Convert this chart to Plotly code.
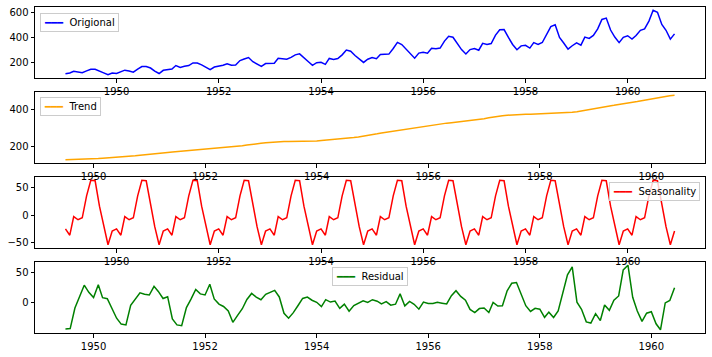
import pandas as pd
import plotly.graph_objects as go
from plotly.subplots import make_subplots

# ---- data ----
passengers = [
    112, 118, 132, 129, 121, 135, 148, 148, 136, 119, 104, 118,
    115, 126, 141, 135, 125, 149, 170, 170, 158, 133, 114, 140,
    145, 150, 178, 163, 172, 178, 199, 199, 184, 162, 146, 166,
    171, 180, 193, 181, 183, 218, 230, 242, 209, 191, 172, 194,
    196, 196, 236, 235, 229, 243, 264, 272, 237, 211, 180, 201,
    204, 188, 235, 227, 234, 264, 302, 293, 259, 229, 203, 229,
    242, 233, 267, 269, 270, 315, 364, 347, 312, 274, 237, 278,
    284, 277, 317, 313, 318, 374, 413, 405, 355, 306, 271, 306,
    315, 301, 356, 348, 355, 422, 465, 467, 404, 347, 305, 336,
    340, 318, 362, 348, 363, 435, 491, 505, 404, 359, 310, 337,
    360, 342, 406, 396, 420, 472, 548, 559, 463, 407, 362, 405,
    417, 391, 419, 461, 472, 535, 622, 606, 508, 461, 390, 432,
]

trend = [
    126.79, 127.25, 127.96, 128.58, 129.00, 129.75,
    131.25, 133.08, 134.92, 136.42, 137.42, 138.75, 140.92, 143.17, 145.71, 148.42, 151.54, 154.71,
    157.13, 159.54, 161.83, 164.13, 166.67, 169.08, 171.25, 173.58, 175.46, 176.83, 178.04, 180.17,
    183.13, 186.21, 189.04, 191.29, 193.58, 195.83, 198.04, 199.75, 202.21, 206.25, 210.42, 213.38,
    215.83, 218.50, 220.92, 222.92, 224.08, 224.71, 225.33, 225.33, 224.96, 224.58, 224.46, 225.54,
    228.00, 230.46, 232.25, 233.92, 235.63, 237.75, 240.50, 243.96, 247.17, 250.25, 253.50, 257.13,
    261.83, 266.67, 271.13, 275.21, 278.50, 281.96, 285.75, 289.33, 293.25, 297.17, 301.00, 305.46,
    309.96, 314.42, 318.63, 321.75, 324.50, 327.08, 329.54, 331.83, 334.46, 337.54, 340.54, 344.08,
    348.25, 353.00, 357.63, 361.38, 364.50, 367.17, 369.46, 371.21, 372.17, 372.42, 372.75, 373.63,
    375.25, 377.92, 379.50, 380.00, 380.71, 380.96, 381.83, 383.67, 386.50, 390.33, 394.71, 398.63,
    402.54, 407.17, 411.88, 416.33, 420.50, 425.50, 430.71, 435.13, 437.71, 440.96, 445.83, 450.63,
    456.33, 461.38, 465.21, 469.33, 472.75, 475.04,
]

seasonal_month = [-24.75, -36.19, -2.24, -8.04, -4.51, 35.40,
                  63.83, 62.82, 16.52, -20.64, -53.59, -28.62]
seasonality = seasonal_month * 12

residual = [
    -42.62, -42.07, -8.48, 11.06, 28.59, 16.87,
    8.50, 29.11, 8.32, 6.62, -7.91, -25.15, -34.75, -35.99, -4.23, 5.22, 16.05, 13.91,
    12.62, 26.65, 18.41, 6.91, 9.84, -26.48, -36.08, -37.40, -7.98, 5.81, 21.55, 14.45,
    12.62, 29.98, 6.20, -2.25, -6.07, -13.23, -31.87, -20.57, -9.73, 5.39, 15.17, 9.24,
    4.92, 13.69, 17.32, 20.12, 9.43, -17.11, -25.16, -16.15, -4.48, 7.06, 9.13, 4.08,
    0.75, -6.27, 4.99, 1.12, 2.88, -9.15, -2.33, -13.78, -4.69, -0.61, 3.09, 0.49,
    4.92, 2.52, -1.89, 1.83, -3.99, -2.36, 14.42, -5.15, 2.23, -2.53, -10.41, 1.16,
    -1.21, -1.23, 0.61, -0.71, -1.99, 11.52, 19.63, 10.35, 4.02, -10.90, -15.95, -9.46,
    -8.50, -15.81, 0.61, -5.34, -4.99, 19.43, 31.71, 32.97, 15.31, -4.78, -14.16, -9.01,
    -10.50, -23.73, -15.26, -23.96, -13.20, 18.64, 45.34, 58.51, 0.98, -10.69, -31.12, -33.01,
    -17.79, -28.98, -3.64, -12.29, 4.01, 11.10, 53.46, 61.05, 8.77, -13.32, -30.24, -17.01,
    -14.58, -34.19, -43.97, -0.29, 3.76, 24.56,
]

series_names = ["Origional", "Trend", "Seasonality", "Residual"]
series_colors = ["#0000ff", "#ffa500", "#ff0000", "#008000"]

full_dates = pd.date_range("1949-01-01", periods=len(passengers), freq="MS")
mid_dates = pd.date_range("1949-07-01", periods=len(trend), freq="MS")

# ---- figure ----
fig = make_subplots(rows=4, cols=1, shared_xaxes=False)

xs = [full_dates, mid_dates, full_dates, mid_dates]
ys = [passengers, trend, seasonality, residual]
for i in range(4):
    fig.add_trace(go.Scatter(x=xs[i], y=ys[i], mode="lines", name=series_names[i],
                             line=dict(color=series_colors[i], width=1.5),
                             showlegend=False),
                  row=i + 1, col=1)

W_PLOT = 670.0
H_PLOT = 326.0
def xf(px):
    return (px - 35) / W_PLOT
def yf(px):
    return (333 - px) / H_PLOT

domains = [(yf(78), 1.0), (yf(163), yf(92)), (yf(248), yf(177)), (0.0, yf(262))]

def auto_range(vals):
    lo, hi = min(vals), max(vals)
    m = 0.05 * (hi - lo)
    return [lo - m, hi + m]

def date_range_pad(d):
    span = d[-1] - d[0]
    return [str(d[0] - 0.05 * span), str(d[-1] + 0.05 * span)]

ytick_sets = [[200, 400, 600], [200, 400], [-50, 0, 50], [0, 50]]

axis_common = dict(showline=True, mirror=True, linecolor="black", linewidth=1,
                   ticks="outside", ticklen=3.5, tickwidth=1, tickcolor="black",
                   showgrid=False, zeroline=False, automargin=False,
                   tickfont=dict(family="DejaVu Sans", size=10, color="black"))

for i in range(1, 5):
    xk = "xaxis" if i == 1 else f"xaxis{i}"
    yk = "yaxis" if i == 1 else f"yaxis{i}"
    fig.layout[xk].update(domain=[0, 1], range=date_range_pad(xs[i - 1]), type="date",
                          tick0="1950-01-01", dtick="M24", tickformat="%Y",
                          **axis_common)
    fig.layout[yk].update(domain=list(domains[i - 1]), range=auto_range(ys[i - 1]),
                          tickvals=ytick_sets[i - 1], **axis_common)

# matplotlib-style legend boxes (one per panel)
legend_pos = [
    (xf(40), yf(13), "left"),
    (xf(40), yf(97), "left"),
    (xf(700), yf(182), "right"),
    (xf(370), yf(267), "center"),
]
for i in range(4):
    lx, ly, anchor = legend_pos[i]
    fig.add_annotation(
        xref="paper", yref="paper", x=lx, y=ly, xanchor=anchor, yanchor="top",
        text=f"<span style='color:{series_colors[i]}'>━━━</span>&nbsp;&nbsp;{series_names[i]}",
        showarrow=False, align="left",
        font=dict(family="DejaVu Sans", size=10, color="black"),
        bgcolor="rgba(255,255,255,0.8)", bordercolor="#cccccc", borderwidth=1,
        borderpad=3,
    )

fig.update_layout(
    width=712, height=357,
    margin=dict(l=35, r=7, t=7, b=24),
    paper_bgcolor="white", plot_bgcolor="white",
    font=dict(family="DejaVu Sans", size=10, color="black"),
    showlegend=False,
)

fig.write_html("out.html", config={"displayModeBar": False},
               post_script="document.body.style.margin='0';")
